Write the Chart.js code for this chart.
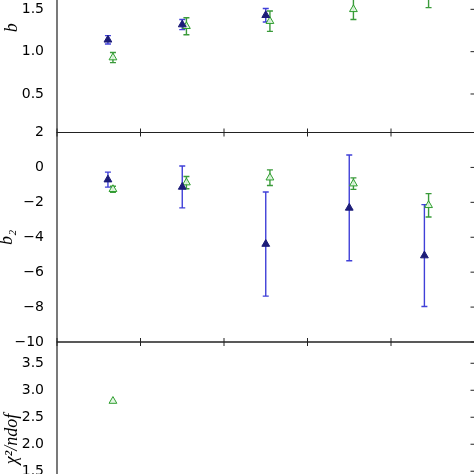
<!DOCTYPE html>
<html>
<head>
<meta charset="utf-8">
<script src="https://cdn.jsdelivr.net/npm/chart.js@4"></script>
<style>
  html, body { margin: 0; padding: 0; background: #fff; }
  #fig { position: relative; width: 474px; height: 474px; overflow: hidden; background: #fff; }
  .panel { position: absolute; left: 0; width: 500px; }
</style>
</head>
<body>
<div id="fig">
  <div class="panel" id="p1"><canvas id="c1"></canvas></div>
  <div class="panel" id="p2"><canvas id="c2"></canvas></div>
  <div class="panel" id="p3"><canvas id="c3"></canvas></div>
</div>
<script>
// x positions of the two series
const blueX  = [0.61, 1.50, 2.50, 3.50, 4.40];
const greenX = [0.67, 1.55, 2.55, 3.55, 4.45];

// top panel: b
const bBlue     = [1.14, 1.32, 1.43, null, null];
const bBlueErr  = [0.05, 0.06, 0.08, null, null];
const bGreen    = [0.93, 1.30, 1.36, 1.50, 1.65];
const bGreenErr = [0.06, 0.10, 0.12, 0.12, 0.13];

// middle panel: b2
const b2Blue     = [-0.70, -1.12, -4.39, -2.32, -5.05];
const b2BlueErr  = [0.43, 1.20, 2.98, 3.03, 2.92];
const b2Green    = [-1.25, -0.87, -0.59, -0.93, -2.17];
const b2GreenErr = [0.17, 0.35, 0.45, 0.33, 0.67];

// bottom panel: chi2/ndof
const chiGreen    = [2.80, null, null, null, null];
const chiGreenErr = [0, null, null, null, null];

// tick labels
const xTicks   = [0, 1, 2, 3, 4, 5];
const bTicks   = [0.5, 1.0, 1.5, 2.0, 2.5];
const b2Ticks  = [2, 0, -2, -4, -6, -8, -10];
const chiTicks = [0.5, 1.0, 1.5, 2.0, 2.5, 3.0, 3.5];

const BLUE = '#1c1c78', BLUE_ERR = '#4040d8';
const GREEN = '#2e9e2e', GREEN_ERR = '#3a9a3a';
const FRAME = '#222';

function points(xs, ys, es) {
  const out = [];
  for (let i = 0; i < xs.length; i++) {
    if (ys[i] === null) continue;
    out.push({ x: xs[i], y: ys[i], e: es[i] || 0 });
  }
  return out;
}

// error bars, drawn under the markers
const errorBars = {
  id: 'errorBars',
  beforeDatasetsDraw(chart) {
    const ctx = chart.ctx, a = chart.chartArea;
    const xs = chart.scales.x, ys = chart.scales.y;
    ctx.save();
    ctx.beginPath();
    ctx.rect(a.left, a.top, a.right - a.left, a.bottom - a.top);
    ctx.clip();
    chart.data.datasets.forEach(ds => {
      ctx.strokeStyle = ds.errColor;
      ctx.lineWidth = 1.4;
      ds.data.forEach(p => {
        if (!p.e) return;
        const x = xs.getPixelForValue(p.x);
        const y1 = ys.getPixelForValue(p.y + p.e);
        const y2 = ys.getPixelForValue(p.y - p.e);
        ctx.beginPath();
        ctx.moveTo(x, y1); ctx.lineTo(x, y2);
        ctx.moveTo(x - 3, y1); ctx.lineTo(x + 3, y1);
        ctx.moveTo(x - 3, y2); ctx.lineTo(x + 3, y2);
        ctx.stroke();
      });
    });
    ctx.restore();
  }
};

// matplotlib-like frame with inward ticks (right spine sits just past the edge)
const frame = {
  id: 'frame',
  afterDraw(chart) {
    const ctx = chart.ctx, a = chart.chartArea;
    const xs = chart.scales.x, ys = chart.scales.y;
    ctx.save();
    ctx.strokeStyle = FRAME;
    ctx.lineWidth = 1.2;
    ctx.beginPath();
    ctx.moveTo(a.right, a.top); ctx.lineTo(a.left, a.top);
    ctx.lineTo(a.left, a.bottom); ctx.lineTo(a.right, a.bottom);
    ctx.stroke();
    ctx.lineWidth = 1;
    ctx.beginPath();
    ctx.moveTo(a.right + 0.5, a.top); ctx.lineTo(a.right + 0.5, a.bottom);
    xTicks.forEach(v => {
      const x = xs.getPixelForValue(v);
      ctx.moveTo(x, a.top); ctx.lineTo(x, a.top + 4);
      ctx.moveTo(x, a.bottom); ctx.lineTo(x, a.bottom - 4);
    });
    ys.ticks.forEach(t => {
      const y = ys.getPixelForValue(t.value);
      ctx.moveTo(a.right, y); ctx.lineTo(a.right - 4, y);
    });
    ctx.stroke();
    ctx.restore();
  }
};

function makePanel(id, divId, g, opt) {
  const div = document.getElementById(divId);
  const padTop = 20;
  const top = Math.floor(g.areaTop) - padTop;
  const height = Math.ceil(g.areaBottom - top + 20);
  div.style.top = top + 'px';
  div.style.height = height + 'px';
  new Chart(document.getElementById(id), {
    type: 'scatter',
    data: { datasets: opt.datasets },
    options: {
      responsive: true,
      maintainAspectRatio: false,
      animation: false,
      layout: {
        padding: {
          left: 0,
          right: 500 - 474.5,
          top: g.areaTop - top,
          bottom: height - (g.areaBottom - top)
        }
      },
      plugins: { legend: { display: false }, tooltip: { enabled: false } },
      scales: {
        x: { type: 'linear', min: 0, max: 5, display: false },
        y: {
          type: 'linear',
          min: opt.min, max: opt.max,
          afterBuildTicks: s => { s.ticks = opt.ticks.map(v => ({ value: v })); },
          afterFit: s => { s.width = 57; },
          grid: { display: false },
          border: { display: false },
          ticks: {
            padding: 5,
            color: '#000',
            autoSkip: false,
            font: { family: 'DejaVu Sans', size: 14 },
            callback: opt.fmt
          },
          title: {
            display: true,
            text: opt.title,
            color: '#000',
            padding: { top: opt.titlePad, bottom: 0 },
            font: { family: 'Liberation Serif', style: 'italic', size: 18 }
          }
        }
      }
    },
    plugins: [errorBars, frame]
  });
}

function blueSet(ys, es) {
  return {
    data: points(blueX, ys, es), errColor: BLUE_ERR,
    pointStyle: 'triangle', pointRadius: 4.5,
    backgroundColor: BLUE, borderColor: BLUE, borderWidth: 1
  };
}
function greenSet(ys, es) {
  return {
    data: points(greenX, ys, es), errColor: GREEN_ERR,
    pointStyle: 'triangle', pointRadius: 4.5,
    backgroundColor: 'rgba(225,245,225,0.9)', borderColor: GREEN, borderWidth: 1
  };
}

const fmt1 = v => v.toFixed(1);
const fmtInt = v => (v < 0 ? '\u2212' + Math.abs(v) : String(v));

makePanel('c1', 'p1', { areaTop: -77, areaBottom: 132.5 }, {
  min: 0.045, max: 2.52, ticks: bTicks, fmt: fmt1, title: 'b', titlePad: 1.5,
  datasets: [blueSet(bBlue, bBlueErr), greenSet(bGreen, bGreenErr)]
});
makePanel('c2', 'p2', { areaTop: 132.5, areaBottom: 342 }, {
  min: -10, max: 2, ticks: b2Ticks, fmt: fmtInt, title: 'b\u2082', titlePad: -3.5,
  datasets: [blueSet(b2Blue, b2BlueErr), greenSet(b2Green, b2GreenErr)]
});
makePanel('c3', 'p3', { areaTop: 342, areaBottom: 536 }, {
  min: 0.3, max: 3.894, ticks: chiTicks, fmt: fmt1, title: '\u03c7\u00b2/ndof', titlePad: 1.5,
  datasets: [greenSet(chiGreen, chiGreenErr)]
});
</script>
</body>
</html>
